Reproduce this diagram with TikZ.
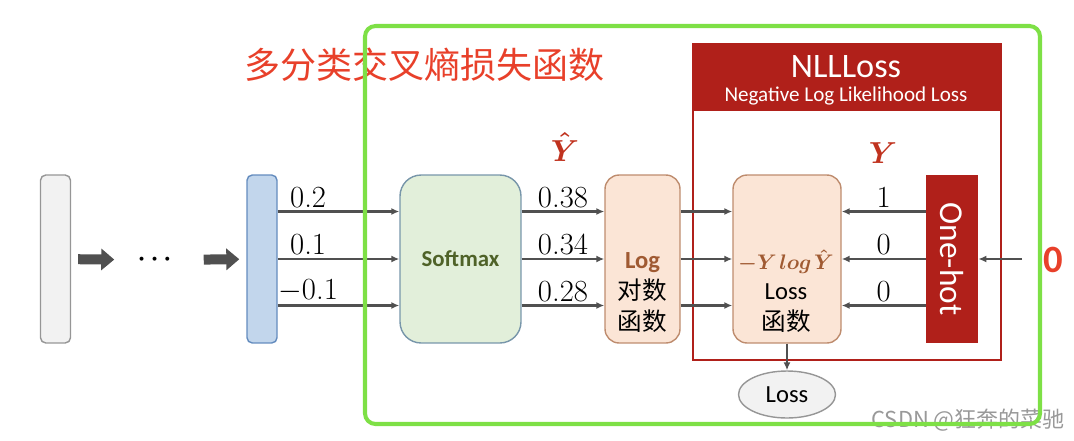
\documentclass[tikz,border=0pt]{standalone}
\usepackage{amsmath}
\usepackage{fontspec}
\newfontfamily\calfont{Carlito}
\newfontfamily\cjkfont{Noto Sans CJK SC}
\usepackage{tikz}
\usetikzlibrary{arrows.meta, positioning, shapes.geometric}

\definecolor{framegreen}{RGB}{126,224,70}
\definecolor{titlered}{RGB}{232,64,42}
\definecolor{nllred}{RGB}{176,32,26}
\definecolor{hatred}{RGB}{192,50,30}
\definecolor{peach}{RGB}{251,229,214}
\definecolor{peachdraw}{RGB}{190,140,110}
\definecolor{logbrown}{RGB}{160,90,50}
\definecolor{softfill}{RGB}{226,239,218}
\definecolor{softdraw}{RGB}{120,150,170}
\definecolor{softtext}{RGB}{79,98,40}
\definecolor{bluefill}{RGB}{194,214,236}
\definecolor{bluedraw}{RGB}{100,140,190}
\definecolor{barfill}{RGB}{242,242,242}
\definecolor{bardraw}{RGB}{150,150,150}
\definecolor{linegray}{RGB}{80,80,80}

\begin{document}
\begin{tikzpicture}[x=0.02cm, y=-0.02cm,
  bar/.style={rectangle, draw, rounded corners=3pt, line width=0.8pt, minimum width=0.6cm, minimum height=3.36cm},
  block/.style={rectangle, draw, rounded corners=8pt, line width=0.8pt, minimum height=3.36cm},
  conn/.style={-{Latex[length=1.6mm, width=1.4mm]}, line width=1.3pt, draw=linegray},
  fat/.style={-{Triangle[length=2.6mm, width=4.2mm]}, line width=2mm, draw=linegray},
  val/.style={font=\fontsize{17.5}{17.5}\selectfont, inner sep=1.5pt},
  blocktext/.style={align=center, font=\fontsize{14}{17.5}\selectfont, inner sep=1pt}
]
\useasboundingbox (0,0) rectangle (1074,440);

% Nodes
\node[bar, fill=barfill, draw=bardraw] (input) at (55.5,259) {};
\node[font=\fontsize{14}{14}\selectfont, inner sep=0pt] (dots) at (157,260) {$\boldsymbol{\cdots}$};
\node[bar, fill=bluefill, draw=bluedraw] (hidden) at (262,259) {};
\node[block, fill=softfill, draw=softdraw, rounded corners=12pt, minimum width=2.42cm,
  text=softtext, font=\calfont\bfseries\fontsize{13}{13}\selectfont] (softmax) at (460.5,259) {Softmax};
\node[block, fill=peach, draw=peachdraw, minimum width=1.5cm] (logbox) at (642.5,259) {};
\node[blocktext] (logtxt) at (642.5,292.5)
  {{\calfont\bfseries\color{logbrown}Log}\\{\cjkfont 对数}\\{\cjkfont 函数}};

\node[draw=nllred, line width=1pt, minimum width=6.16cm, minimum height=6.32cm] (nll) at (847,202) {};
\node[fill=nllred, minimum width=6.16cm, minimum height=1.36cm, anchor=north] (nllhead) at (nll.north) {};
\node[text=white, font=\calfont\fontsize{19.5}{19.5}\selectfont] (nllname) at (846,67) {NLLLoss};
\node[text=white, font=\calfont\fontsize{12}{12}\selectfont] (nllfull) at (846,96) {Negative Log Likelihood Loss};

\node[block, fill=peach, draw=peachdraw, minimum width=2.16cm] (lossbox) at (787,259) {};
\node[blocktext] (losstxt) at (786,291)
  {\textcolor{logbrown}{\fontsize{12}{12}\selectfont$\boldsymbol{-Y\mkern2mu log\mkern2mu\hat{Y}}$}\\{\calfont Loss}\\{\cjkfont 函数}};
\node[fill=nllred, minimum width=1.04cm, minimum height=3.36cm] (onehot) at (952,259) {};
\node[rotate=-90, text=white, font=\calfont\fontsize{19}{19}\selectfont] (onehottxt) at (onehot) {One-hot};
\node[ellipse, draw=bardraw, fill=barfill, line width=0.8pt, minimum width=1.94cm, minimum height=0.94cm,
  font=\calfont\fontsize{14}{14}\selectfont] (loss) at (787,394.5) {Loss};

\node[text=hatred, font=\fontsize{17}{17}\selectfont, inner sep=0pt] (yhat) at (565,147) {$\boldsymbol{\hat{Y}}$};
\node[text=hatred, font=\fontsize{19}{19}\selectfont] (ylab) at (883,153) {$\boldsymbol{Y}$};
\node[text=titlered, font=\cjkfont\fontsize{20.5}{20.5}\selectfont] (title) at (424.5,65) {多分类交叉熵损失函数};
\node[text=titlered, font=\calfont\bfseries\fontsize{22}{22}\selectfont] (zerolab) at (1053,260) {0};
\coordinate (src) at (1022,259);
\node[text=gray!80, font=\cjkfont\fontsize{12.5}{12.5}\selectfont] (mark) at (968,420) {CSDN @狂奔的菜驰};

% Arrows
\draw[fat, shorten <=0.14cm, shorten >=0.46cm] (input) -- (dots);
\draw[fat, shorten <=0.54cm, shorten >=0.14cm] (dots) -- (hidden);
\foreach \dy/\a/\b/\c in {0.95/0.2/0.38/1, 0/0.1/0.34/0, -0.93/{$-$0.1}/0.28/0} {
  \draw[conn] ([yshift=\dy cm]hidden.east) -- node[val, pos=0.25, above] {\a} ([yshift=\dy cm]softmax.west);
  \draw[conn] ([yshift=\dy cm]softmax.east) -- node[val, above] {\b} ([yshift=\dy cm]logbox.west);
  \draw[conn] ([yshift=\dy cm]logbox.east) -- ([yshift=\dy cm]lossbox.west);
  \draw[conn] ([yshift=\dy cm]onehot.west) -- node[val, above] {\c} ([yshift=\dy cm]lossbox.east);
}
\draw[conn] (src) -- (onehot.east);
\draw[conn] (lossbox) -- (loss);

% Frame
\draw[framegreen, line width=2.3pt, rounded corners=6pt] (365,26) rectangle (1040,424);
\end{tikzpicture}
\end{document}
